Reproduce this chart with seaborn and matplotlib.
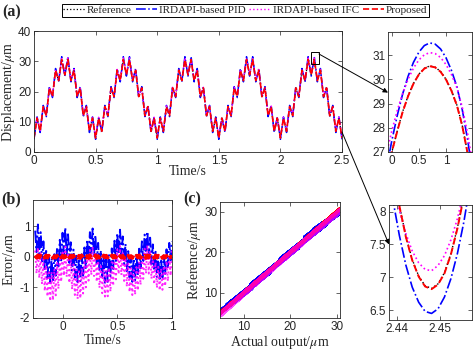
import numpy as np
import seaborn as sns
import matplotlib.pyplot as plt
from matplotlib.patches import Rectangle, ConnectionPatch
from matplotlib.ticker import FuncFormatter

# === Panel (a): displacement, read at the local extrema (every 0.025 s) ===
t_a = np.linspace(0, 2.5, 101)
ref_a = [4.6, 11.2, 6.8, 15.0, 12.0, 21.2, 18.3, 27.0, 23.6, 30.6, 25.5, 30.6, 23.6, 27.0, 18.3, 21.2, 12.0, 15.0, 6.8, 11.2,
         4.6, 11.2, 6.8, 15.0, 12.0, 21.2, 18.3, 27.0, 23.6, 30.6, 25.5, 30.6, 23.6, 27.0, 18.3, 21.2, 12.0, 15.0, 6.8, 11.2,
         4.6, 11.2, 6.8, 15.0, 12.0, 21.2, 18.3, 27.0, 23.6, 30.6, 25.5, 30.6, 23.6, 27.0, 18.3, 21.2, 12.0, 15.0, 6.8, 11.2,
         4.6, 11.2, 6.8, 15.0, 12.0, 21.2, 18.3, 27.0, 23.6, 30.6, 25.5, 30.6, 23.6, 27.0, 18.3, 21.2, 12.0, 15.0, 6.8, 11.2,
         4.6, 11.2, 6.8, 15.0, 12.0, 21.2, 18.3, 27.0, 23.6, 30.6, 25.5, 30.6, 23.6, 27.0, 18.3, 21.2, 12.0, 15.0, 6.8, 11.2,
         4.6]
pid_a = [4.2, 11.6, 6.45, 15.4, 11.7, 21.6, 18.0, 27.6, 23.2, 31.5, 25.1, 31.5, 23.2, 27.6, 18.0, 21.6, 11.7, 15.4, 6.45, 11.6,
         4.2, 11.6, 6.45, 15.4, 11.7, 21.6, 18.0, 27.6, 23.2, 31.5, 25.1, 31.5, 23.2, 27.6, 18.0, 21.6, 11.7, 15.4, 6.45, 11.6,
         4.2, 11.6, 6.45, 15.4, 11.7, 21.6, 18.0, 27.6, 23.2, 31.5, 25.1, 31.5, 23.2, 27.6, 18.0, 21.6, 11.7, 15.4, 6.45, 11.6,
         4.2, 11.6, 6.45, 15.4, 11.7, 21.6, 18.0, 27.6, 23.2, 31.5, 25.1, 31.5, 23.2, 27.6, 18.0, 21.6, 11.7, 15.4, 6.45, 11.6,
         4.2, 11.6, 6.45, 15.4, 11.7, 21.6, 18.0, 27.6, 23.2, 31.5, 25.1, 31.5, 23.2, 27.6, 18.0, 21.6, 11.7, 15.4, 6.45, 11.6,
         4.2]
ifc_a = [5.0, 11.5, 7.1, 15.2, 12.3, 21.4, 18.6, 27.3, 23.9, 31.1, 25.8, 31.1, 23.9, 27.3, 18.6, 21.4, 12.3, 15.2, 7.1, 11.5,
         5.0, 11.5, 7.1, 15.2, 12.3, 21.4, 18.6, 27.3, 23.9, 31.1, 25.8, 31.1, 23.9, 27.3, 18.6, 21.4, 12.3, 15.2, 7.1, 11.5,
         5.0, 11.5, 7.1, 15.2, 12.3, 21.4, 18.6, 27.3, 23.9, 31.1, 25.8, 31.1, 23.9, 27.3, 18.6, 21.4, 12.3, 15.2, 7.1, 11.5,
         5.0, 11.5, 7.1, 15.2, 12.3, 21.4, 18.6, 27.3, 23.9, 31.1, 25.8, 31.1, 23.9, 27.3, 18.6, 21.4, 12.3, 15.2, 7.1, 11.5,
         5.0, 11.5, 7.1, 15.2, 12.3, 21.4, 18.6, 27.3, 23.9, 31.1, 25.8, 31.1, 23.9, 27.3, 18.6, 21.4, 12.3, 15.2, 7.1, 11.5,
         5.0]
prop_a = [4.6, 11.2, 6.85, 15.0, 12.0, 21.2, 18.3, 27.0, 23.6, 30.55, 25.5, 30.55, 23.6, 27.0, 18.3, 21.2, 12.0, 15.0, 6.85, 11.2,
          4.6, 11.2, 6.85, 15.0, 12.0, 21.2, 18.3, 27.0, 23.6, 30.55, 25.5, 30.55, 23.6, 27.0, 18.3, 21.2, 12.0, 15.0, 6.85, 11.2,
          4.6, 11.2, 6.85, 15.0, 12.0, 21.2, 18.3, 27.0, 23.6, 30.55, 25.5, 30.55, 23.6, 27.0, 18.3, 21.2, 12.0, 15.0, 6.85, 11.2,
          4.6, 11.2, 6.85, 15.0, 12.0, 21.2, 18.3, 27.0, 23.6, 30.55, 25.5, 30.55, 23.6, 27.0, 18.3, 21.2, 12.0, 15.0, 6.85, 11.2,
          4.6, 11.2, 6.85, 15.0, 12.0, 21.2, 18.3, 27.0, 23.6, 30.55, 25.5, 30.55, 23.6, 27.0, 18.3, 21.2, 12.0, 15.0, 6.85, 11.2,
          4.6]

# === Zoom insets ===
top_x = [-0.1, 0.0, 0.1, 0.2, 0.3, 0.4, 0.5, 0.6, 0.7, 0.8, 0.9, 1.0, 1.1, 1.2, 1.3, 1.4, 1.5]
top_ref = [25.9, 27.0, 27.86, 28.66, 29.31, 29.83, 30.21, 30.45, 30.55, 30.5, 30.32, 30.0, 29.54, 28.94, 28.1, 26.95, 25.6]
top_pid = [26.3, 27.46, 28.5, 29.39, 30.12, 30.7, 31.12, 31.39, 31.5, 31.45, 31.25, 30.89, 30.37, 29.7, 28.75, 27.5, 26.0]
top_ifc = [26.9, 27.87, 28.7, 29.41, 30.0, 30.46, 30.8, 31.01, 31.1, 31.06, 30.9, 30.61, 30.2, 29.66, 28.85, 27.75, 26.4]
top_prop = [25.9, 27.0, 27.85, 28.65, 29.3, 29.82, 30.2, 30.44, 30.54, 30.49, 30.31, 29.99, 29.53, 28.93, 28.08, 26.93, 25.6]

bot_x = [2.436, 2.4375, 2.439, 2.4405, 2.442, 2.4435, 2.445, 2.4465, 2.448, 2.4495, 2.451, 2.4525, 2.454, 2.4555, 2.457, 2.4585]
bot_ref = [10.15, 9.36, 8.68, 8.10, 7.63, 7.27, 7.02, 6.87, 6.83, 6.90, 7.07, 7.36, 7.75, 8.24, 8.85, 9.56]
bot_pid = [9.58, 8.83, 8.18, 7.64, 7.19, 6.85, 6.62, 6.48, 6.45, 6.52, 6.70, 6.98, 7.36, 7.84, 8.43, 9.12]
bot_ifc = [9.58, 8.98, 8.46, 8.02, 7.67, 7.40, 7.22, 7.12, 7.10, 7.18, 7.33, 7.57, 7.89, 8.30, 8.79, 9.37]
bot_prop = [10.12, 9.34, 8.67, 8.09, 7.62, 7.26, 7.01, 6.86, 6.82, 6.89, 7.06, 7.35, 7.74, 8.23, 8.84, 9.55]

# === Panel (b): tracking error, sampled every 0.0125 s ===
t_b = np.linspace(-0.25, 1.0, 101)
pid_err = [0.85, 0.15,
           1.05, 0.1, 0.8, -0.15, 0.5, -0.45, 0.25, -0.7, 0.05, -0.85, -0.05, -0.82, 0.08, -0.62, 0.3, -0.38, 0.55, -0.12, 0.78, 0.08,
           0.95, 0.05, 0.73, -0.2, 0.47, -0.45, 0.23, -0.68, 0.03, -0.83, -0.05, -0.8, 0.08, -0.62, 0.3, -0.37, 0.56, -0.11, 0.8, 0.1,
           0.92, 0.02, 0.7, -0.22, 0.45, -0.47, 0.2, -0.7, 0.0, -0.85, -0.08, -0.82, 0.05, -0.64, 0.27, -0.4, 0.52, -0.14, 0.76, 0.07,
           0.88, 0.0, 0.66, -0.24, 0.42, -0.47, 0.18, -0.68, 0.0, -0.82, -0.06, -0.78, 0.06, -0.6, 0.26, -0.38, 0.5, -0.14, 0.72, 0.05,
           0.82, -0.02, 0.62, -0.25, 0.4, -0.46, 0.16, -0.66, -0.02, -0.78, -0.07, -0.74, 0.04, -0.56, 0.24, -0.34, 0.45, -0.12, 0.5]
ifc_err = [0.2, -0.55,
           0.3, -0.7, 0.12, -0.9, -0.08, -1.12, -0.28, -1.3, -0.44, -1.45, -0.5, -1.42, -0.4, -1.26, -0.2, -1.05, 0.0, -0.82, 0.2, -0.62,
           0.32, -0.66, 0.14, -0.86, -0.06, -1.07, -0.25, -1.25, -0.42, -1.38, -0.48, -1.36, -0.38, -1.2, -0.18, -1.0, 0.02, -0.78, 0.22, -0.6,
           0.33, -0.63, 0.15, -0.82, -0.05, -1.02, -0.24, -1.19, -0.4, -1.3, -0.46, -1.29, -0.36, -1.14, -0.18, -0.95, 0.03, -0.74, 0.24, -0.57,
           0.35, -0.6, 0.17, -0.79, -0.03, -0.98, -0.22, -1.15, -0.38, -1.25, -0.44, -1.24, -0.34, -1.1, -0.16, -0.92, 0.05, -0.72, 0.26, -0.55,
           0.38, -0.55, 0.2, -0.72, 0.0, -0.9, -0.18, -1.02, -0.33, -1.1, -0.38, -1.08, -0.3, -0.96, -0.14, -0.8, 0.05, -0.62, 0.2]
prop_err = [0.04, -0.04, 0.05, -0.03, 0.04, -0.05, 0.03, -0.04, 0.05, -0.04, 0.04, -0.03, 0.05, -0.05, 0.03, -0.04, 0.04, -0.05, 0.05, -0.03,
            0.04, -0.04, 0.03, -0.05, 0.05, -0.04, 0.04, -0.03, 0.05, -0.05, 0.03, -0.04, 0.04, -0.05, 0.05, -0.03, 0.04, -0.04, 0.03, -0.05,
            0.05, -0.04, 0.04, -0.03, 0.05, -0.05, 0.03, -0.04, 0.04, -0.05, 0.05, -0.03, 0.04, -0.04, 0.03, -0.05, 0.05, -0.04, 0.04, -0.03,
            0.05, -0.05, 0.03, -0.04, 0.04, -0.05, 0.05, -0.03, 0.04, -0.04, 0.03, -0.05, 0.05, -0.04, 0.04, -0.03, 0.05, -0.05, 0.03, -0.04,
            0.04, -0.05, 0.05, -0.03, 0.04, -0.04, 0.03, -0.05, 0.05, -0.04, 0.04, -0.03, 0.05, -0.05, 0.03, -0.04, 0.04, -0.05, 0.05, -0.03,
            0.04]

labels = ['Reference', 'IRDAPI-based PID', 'IRDAPI-based IFC', 'Proposed']
colors = ['black', '#0000ff', '#ff00ff', '#ff0000']
styles = [':', '-.', ':', '--']

# === Style ===
sns.set_theme(style='ticks')
plt.rcParams['font.family'] = ['Liberation Sans', 'DejaVu Sans']
plt.rcParams['mathtext.fontset'] = 'stix'
plt.rcParams['axes.unicode_minus'] = False
serif = ['Liberation Serif', 'DejaVu Serif']
frame = '#262626'

fig = plt.figure(figsize=(4.74, 3.55), dpi=100)
W, H = 474, 355


def px_axes(l, t, r, b):
    return fig.add_axes([l / W, 1 - b / H, (r - l) / W, (b - t) / H])


def style_ax(ax):
    ax.tick_params(direction='in', top=True, right=True, length=3, width=0.5,
                   colors=frame, labelsize=8.5, pad=2, labelfontfamily='Liberation Sans')
    for s in ax.spines.values():
        s.set_linewidth(0.6)
        s.set_color(frame)
    fmt = FuncFormatter(lambda v, p: '%g' % round(v, 4))
    ax.xaxis.set_major_formatter(fmt)
    ax.yaxis.set_major_formatter(fmt)


def draw(ax, x, ys, lws, alpha=1.0, ls=None):
    for y, c, st, lw, lab in zip(ys, colors, styles, lws, labels):
        if y is None:
            continue
        sns.lineplot(x=x, y=y, ax=ax, color=c, linestyle=ls or st, lw=lw, label=lab,
                     estimator=None, sort=False, legend=False, alpha=alpha)


# --- (a) ---
ax_a = px_axes(34, 31, 342, 152)
draw(ax_a, t_a, [ref_a, pid_a, ifc_a, prop_a], [0.9, 1.1, 1.0, 1.2])
ax_a.set_xlim(0, 2.5)
ax_a.set_ylim(0, 40)
ax_a.set_xticks([0, 0.5, 1, 1.5, 2, 2.5])
ax_a.set_yticks([0, 10, 20, 30, 40])
style_ax(ax_a)
ax_a.set_xlabel('Time/s', family=serif, fontsize=10, labelpad=-1)
ax_a.set_ylabel('Displacement/$\\mu$m', family=serif, fontsize=10, labelpad=1)
ax_a.add_patch(Rectangle((2.248, 29.1), 0.065, 3.95, fill=False, ec='black', lw=0.7, zorder=5))

# --- top inset ---
ax_t = px_axes(388, 32, 472, 152)
draw(ax_t, top_x, [top_ref, top_pid, top_ifc, top_prop], [1.0, 1.2, 1.2, 1.4])
ax_t.set_xlim(-0.07, 1.48)
ax_t.set_ylim(27, 31.95)
ax_t.set_xticks([0, 0.5, 1])
ax_t.set_yticks([27, 28, 29, 30, 31])
style_ax(ax_t)

# --- bottom inset ---
ax_z = px_axes(389, 205, 472, 320)
draw(ax_z, bot_x, [bot_ref, bot_pid, bot_ifc, bot_prop], [1.0, 1.2, 1.2, 1.4])
ax_z.set_xlim(2.4381, 2.4574)
ax_z.set_ylim(6.35, 8.1)
ax_z.set_xticks([2.44, 2.45])
ax_z.set_yticks([6.5, 7, 7.5, 8])
style_ax(ax_z)

# --- (b) ---
ax_b = px_axes(33, 200, 172, 318)
draw(ax_b, t_b, [None, pid_err, None, None], [0, 1.4, 0, 0])
draw(ax_b, t_b, [None, None, ifc_err, None], [0, 0, 1.4, 0], alpha=0.85)
draw(ax_b, t_b, [None, None, None, prop_err], [0, 0, 0, 2.4])
ax_b.set_xlim(-0.27, 1.0)
ax_b.set_ylim(-2, 1.85)
ax_b.set_xticks([0, 0.5, 1])
ax_b.set_yticks([-2, -1, 0, 1])
style_ax(ax_b)
ax_b.set_xlabel('Time/s', family=serif, fontsize=10, labelpad=1)
ax_b.set_ylabel('Error/$\\mu$m', family=serif, fontsize=10, labelpad=1)

# --- (c) ---
ax_c = px_axes(220, 202, 340, 318)
draw(ax_c, pid_a, [None, ref_a, None, None], [0, 3.4, 0, 0], ls='-')
draw(ax_c, prop_a, [None, None, None, ref_a], [0, 0, 0, 2.4], ls='-')
draw(ax_c, ifc_a, [None, None, ref_a, None], [0, 0, 3.4, 0], alpha=0.7, ls='-')
ax_c.set_xlim(4.85, 30.65)
ax_c.set_ylim(3.7, 32.4)
ax_c.set_xticks([10, 20, 30])
ax_c.set_yticks([10, 20, 30])
style_ax(ax_c)
ax_c.set_xlabel('Actual output/$\\mu$m', family=serif, fontsize=10, labelpad=1)
ax_c.set_ylabel('Reference/$\\mu$m', family=serif, fontsize=10, labelpad=1)

# === Connectors ===
for xyA, axB, xyB in [((2.313, 32.4), ax_t, (-0.07, 29.45)),
                      ((2.5, 6.6), ax_z, (2.4381, 7.5))]:
    con = ConnectionPatch(xyA=xyA, coordsA=ax_a.transData, xyB=xyB, coordsB=axB.transData,
                          arrowstyle='-|>', mutation_scale=7, lw=0.7, color='black', zorder=10)
    fig.add_artist(con)

# === Legend and panel labels ===
handles = ax_a.get_lines()[:4]
leg = fig.legend(handles, labels, loc='center', bbox_to_anchor=(0.518, 0.971), ncol=4,
                 prop={'family': serif, 'size': 8}, frameon=True, fancybox=False,
                 edgecolor='black', framealpha=1, borderpad=0.15, handlelength=1.9,
                 handletextpad=0.2, columnspacing=0.35, borderaxespad=0)
leg.get_frame().set_linewidth(0.7)

for txt, x, y in [('(a)', 2, 12), ('(b)', 1, 199), ('(c)', 183, 199)]:
    fig.text(x / W, 1 - y / H, txt, family=serif, fontsize=11.5, fontweight='bold',
             ha='left', va='center')

fig.savefig('out.png', dpi=100)
